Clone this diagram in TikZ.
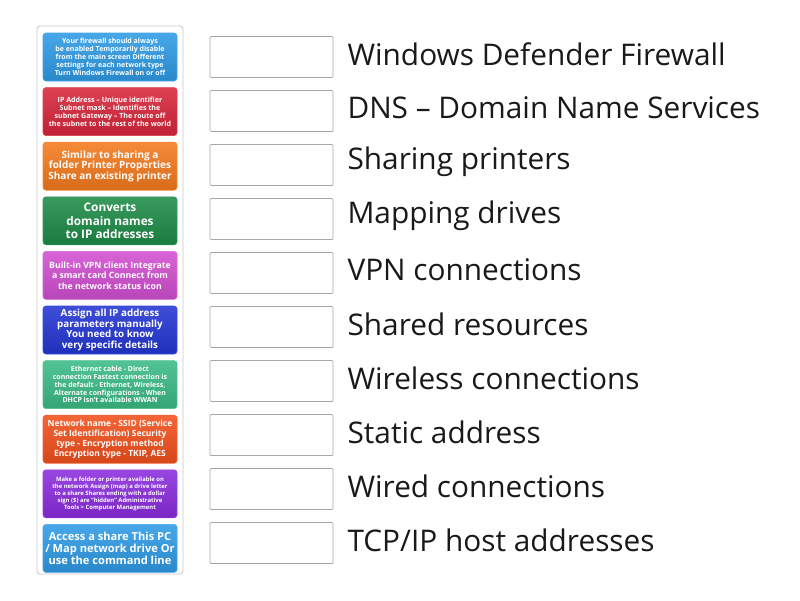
\documentclass[tikz,border=0pt]{standalone}
\usepackage{fontspec}
\setmainfont{Open Sans}
\usetikzlibrary{positioning}
\definecolor{cardA}{HTML}{2E9BE6}
\definecolor{cardB}{HTML}{D8263A}
\definecolor{cardC}{HTML}{F47A1E}
\definecolor{cardD}{HTML}{1E8C48}
\definecolor{cardE}{HTML}{D24FD2}
\definecolor{cardF}{HTML}{2436D4}
\definecolor{cardG}{HTML}{3BBB85}
\definecolor{cardH}{HTML}{F2501C}
\definecolor{cardI}{HTML}{8A2CDE}
\def\gap{54}
\def\toprow{57}

\begin{document}
\begin{tikzpicture}
    [
        x=1pt, y=-1pt,
        panel/.style={draw=black!22, fill=white, rounded corners=3pt, line width=0.8pt},
        card/.style={rounded corners=3pt, minimum width=134pt, minimum height=48pt,
            inner sep=0pt, text=white, align=center, top color=#1!88!white, bottom color=#1!88!black,
            draw=#1!90!white, line width=0.6pt},
        slot/.style={draw=black!35, fill=white, rounded corners=1pt, minimum width=123pt,
            minimum height=41pt, inner sep=0pt, line width=0.7pt},
        term/.style={anchor=west, inner sep=0pt, font=\fontsize{29.8}{34}\selectfont, text=black!90}
    ]
%    \draw[help lines,step=50] (0,0) grid (800,600);
    \useasboundingbox (0,0) rectangle (800,600);
    \draw[panel] (37,26) rectangle (183,574);

    % cards on the left
    \node[card=cardA, font=\bfseries\fontsize{7}{7.9}\selectfont] (c1) at (110,\toprow)
        {Your firewall should always\\be enabled Temporarily disable\\from the main screen Different\\settings for each network type\\Turn Windows Firewall on or off};
    \node[card=cardB, font=\bfseries\fontsize{7.1}{8}\selectfont, below=6pt of c1] (c2)
        {IP Address – Unique identifier\\Subnet mask – Identifies the\\subnet Gateway – The route off\\the subnet to the rest of the world};
    \node[card=cardC, font=\bfseries\fontsize{10}{10.8}\selectfont, below=6pt of c2] (c3)
        {Similar to sharing a\\folder Printer Properties\\Share an existing printer};
    \node[card=cardD, font=\bfseries\fontsize{11.8}{13.3}\selectfont, below=6pt of c3] (c4)
        {Converts\\domain names\\to IP addresses};
    \node[card=cardE, font=\bfseries\fontsize{8.7}{10.5}\selectfont, below=6pt of c4] (c5)
        {Built-in VPN client Integrate\\a smart card Connect from\\the network status icon};
    \node[card=cardF, font=\bfseries\fontsize{9.8}{10.6}\selectfont, below=6pt of c5] (c6)
        {Assign all IP address\\parameters manually\\You need to know\\very specific details};
    \node[card=cardG, font=\bfseries\fontsize{7}{7.8}\selectfont, below=6pt of c6] (c7)
        {Ethernet cable - Direct\\connection Fastest connection is\\the default - Ethernet, Wireless,\\Alternate configurations - When\\DHCP isn't available WWAN};
    \node[card=cardH, font=\bfseries\fontsize{8.5}{9.8}\selectfont, below=6pt of c7] (c8)
        {Network name - SSID (Service\\Set Identification) Security\\type - Encryption method\\Encryption type - TKIP, AES};
    \node[card=cardI, font=\bfseries\fontsize{5.9}{7.1}\selectfont, below=6pt of c8] (c9)
        {Make a folder or printer available on\\the network Assign (map) a drive letter\\to a share Shares ending with a dollar\\sign (\$) are "hidden" Administrative\\Tools > Computer Management};
    \node[card=cardA, font=\bfseries\fontsize{11.1}{12.2}\selectfont, below=6pt of c9] (c10)
        {Access a share This PC\\/ Map network drive Or\\use the command line};

    % empty slots and terms on the right
    \foreach \i/\t in {1/{Windows Defender Firewall}, 2/{DNS – Domain Name Services},
        3/{Sharing printers}, 4/{Mapping drives}, 5/{VPN connections},
        6/{Shared resources}, 7/{Wireless connections}, 8/{Static address},
        9/{Wired connections}, 10/{TCP/IP host addresses}}
    {
        \node[slot] (s\i) at (271.5, \toprow + \i*\gap - \gap) {};
        \node[term, right=14pt of s\i, yshift=3pt] (t\i) {\t};
    }
\end{tikzpicture}
\end{document}
